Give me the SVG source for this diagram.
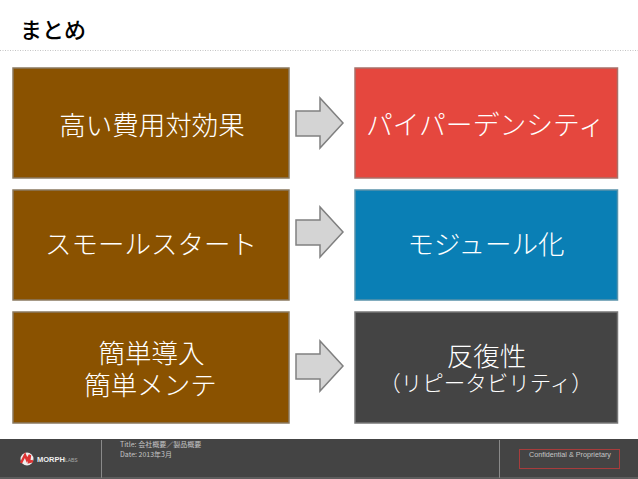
<svg xmlns="http://www.w3.org/2000/svg" width="638" height="479" viewBox="0 0 638 479">
<style>
text{font-family:"Noto Sans CJK JP","Liberation Sans",sans-serif}
.b{stroke-width:1.5}
.t{fill:#fff;font-size:26.5px;text-anchor:middle;font-weight:300}
.a{fill:#d4d4d4;stroke:#808080;stroke-width:1.5}
.f{fill:#c4c4c4;font-size:7px}
</style>
<rect width="638" height="479" fill="#fff"/>
<text x="20" y="38" font-size="22" font-weight="500" fill="#000">まとめ</text>
<line x1="0" y1="50.5" x2="638" y2="50.5" stroke="#c4c4c4" stroke-dasharray="1 1.5"/>
<g id="n1"><rect class="b" x="13" y="68" width="276" height="110" fill="#8a5200" stroke="#8a7a60"/><text class="t" x="152" y="135">高い費用対効果</text></g>
<g id="n2"><rect class="b" x="355" y="68" width="262.500" height="110" fill="#e5473e" stroke="#a8706a"/><text class="t" x="485.500" y="135" style="font-size:26.800px">パイパーデンシティ</text></g>
<g id="n3"><rect class="b" x="13" y="190" width="276" height="110" fill="#8a5200" stroke="#8a7a60"/><text class="t" x="151" y="254">スモールスタート</text></g>
<g id="n4"><rect class="b" x="355" y="190" width="262.500" height="110" fill="#0a7fb5" stroke="#5a93ab"/><text class="t" x="486" y="254">モジュール化</text></g>
<g id="n5"><rect class="b" x="13" y="312" width="276" height="111" fill="#8a5200" stroke="#8a7a60"/><text class="t" x="151.500" y="363">簡単導入</text><text class="t" x="150.500" y="395">簡単メンテ</text></g>
<g id="n6"><rect class="b" x="355" y="312" width="262.500" height="111" fill="#444" stroke="#777"/><text class="t" x="486.500" y="366">反復性</text><text class="t" x="486" y="391" style="font-size:21.500px">（リピータビリティ）</text></g>
<g id="connectors">
<path class="a" d="M296 111H320V98L343 123L320 148V136H296Z"/>
<path class="a" d="M296 220H320V207L343 232L320 257V245H296Z"/>
<path class="a" d="M296 354H320V341L343 366L320 391V379H296Z"/>
</g>
<g id="footer">
<rect x="0" y="439" width="638" height="40" fill="#444"/>
<line x1="101.500" y1="440" x2="101.500" y2="478" stroke="#8a8a8a"/>
<line x1="499.500" y1="440" x2="499.500" y2="478" stroke="#8a8a8a"/>
<line x1="0" y1="478" x2="638" y2="478" stroke="#777"/>
<circle cx="27" cy="459" r="6.500" fill="#eee"/>
<path d="M21 463L25 455L27 460L30 455L29 462L33 461" fill="none" stroke="#d33" stroke-width="2.500"/>
<text x="37" y="462" font-size="7.500" font-weight="700" fill="#eee" style="font-family:'Liberation Sans',sans-serif">MORPH<tspan font-size="5" font-weight="400" fill="#aaa">LABS</tspan></text>
<text class="f" x="120" y="447">Title: 会社概要／製品概要</text>
<text class="f" x="120" y="456.500">Date: 2013年3月</text>
<rect x="519.500" y="449.500" width="100" height="19" fill="none" stroke="#a83c3c"/>
<text class="f" x="529" y="456.500" style="font-family:'Liberation Sans',sans-serif;font-size:7.200px">Confidential &amp; Proprietary</text>
</g>
</svg>
